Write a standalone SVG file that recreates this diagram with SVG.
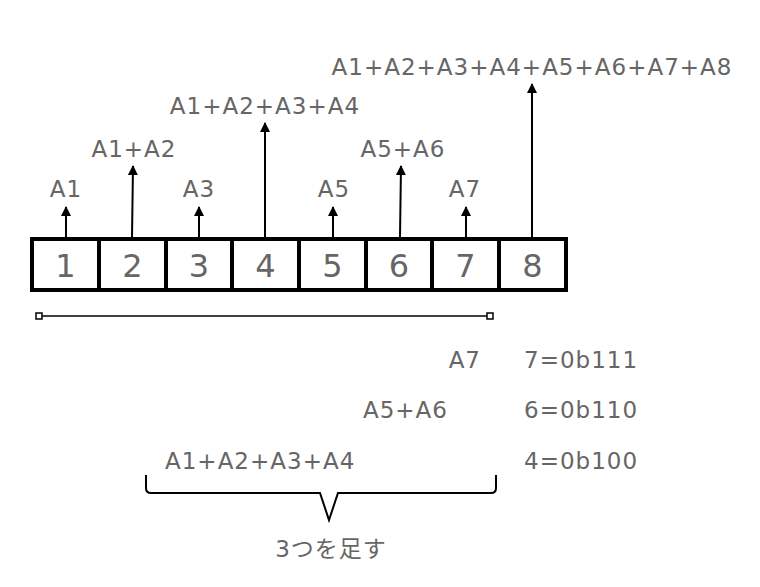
<svg xmlns="http://www.w3.org/2000/svg" width="760" height="587" viewBox="0 0 760 587">
<defs>
<marker id="ah" viewBox="0 0 10 10" refX="9" refY="5" markerWidth="10" markerHeight="10" markerUnits="userSpaceOnUse" orient="auto"><path d="M0,0 L10,5 L0,10 Z" fill="#000"/></marker>
</defs>
<style>
text{font-family:"DejaVu Sans","Noto Sans CJK JP",sans-serif;font-size:23px;letter-spacing:1px;fill:#666}
.m{text-anchor:middle}
.cell{fill:#fff;stroke:#000;stroke-width:4}
.num{font-size:32px;text-anchor:middle;letter-spacing:0}
.c{stroke:#000;stroke-width:2;fill:none}
</style>
<rect width="760" height="587" fill="#fff"/>
<g id="cells">
<g id="c1"><rect class="cell" x="32" y="239" width="67" height="51"/><text class="num" x="65.5" y="277">1</text></g>
<g id="c2"><rect class="cell" x="99" y="239" width="67" height="51"/><text class="num" x="132.5" y="277">2</text></g>
<g id="c3"><rect class="cell" x="166" y="239" width="66" height="51"/><text class="num" x="199" y="277">3</text></g>
<g id="c4"><rect class="cell" x="232" y="239" width="67" height="51"/><text class="num" x="265.5" y="277">4</text></g>
<g id="c5"><rect class="cell" x="299" y="239" width="67" height="51"/><text class="num" x="332.5" y="277">5</text></g>
<g id="c6"><rect class="cell" x="366" y="239" width="66" height="51"/><text class="num" x="399" y="277">6</text></g>
<g id="c7"><rect class="cell" x="432" y="239" width="67" height="51"/><text class="num" x="465.5" y="277">7</text></g>
<g id="c8"><rect class="cell" x="499" y="239" width="67" height="51"/><text class="num" x="532.5" y="277">8</text></g>
</g>
<g id="connectors">
<line class="c" x1="66" y1="237" x2="66" y2="207" marker-end="url(#ah)"/>
<line class="c" x1="132" y1="237" x2="133" y2="166" marker-end="url(#ah)"/>
<line class="c" x1="199" y1="237" x2="199" y2="207" marker-end="url(#ah)"/>
<line class="c" x1="265" y1="237" x2="265" y2="123" marker-end="url(#ah)"/>
<line class="c" x1="333" y1="237" x2="333" y2="207" marker-end="url(#ah)"/>
<line class="c" x1="400" y1="237" x2="401" y2="166" marker-end="url(#ah)"/>
<line class="c" x1="466" y1="237" x2="466" y2="207" marker-end="url(#ah)"/>
<line class="c" x1="532" y1="237" x2="532" y2="84" marker-end="url(#ah)"/>
</g>
<g id="labels">
<text class="m" x="66" y="197">A1</text>
<text class="m" x="134" y="157">A1+A2</text>
<text class="m" x="199" y="197">A3</text>
<text class="m" x="265" y="114">A1+A2+A3+A4</text>
<text class="m" x="334" y="197">A5</text>
<text class="m" x="403" y="157">A5+A6</text>
<text class="m" x="465" y="197">A7</text>
<text class="m" x="532" y="75">A1+A2+A3+A4+A5+A6+A7+A8</text>
</g>
<g id="range">
<line x1="39" y1="316" x2="490" y2="316" stroke="#000" stroke-width="1.5"/>
<rect x="36" y="313" width="6" height="6" fill="#fff" stroke="#000" stroke-width="1.5"/>
<rect x="487" y="313" width="6" height="6" fill="#fff" stroke="#000" stroke-width="1.5"/>
</g>
<g id="sums">
<text x="481" y="368" text-anchor="end">A7</text>
<text x="524" y="368">7=0b111</text>
<text x="448" y="418" text-anchor="end">A5+A6</text>
<text x="524" y="418">6=0b110</text>
<text x="165" y="469">A1+A2+A3+A4</text>
<text x="524" y="469">4=0b100</text>
</g>
<g id="brace">
<path d="M146,475 V488 Q146,493 151,493 H320 L329,520 L338,493 H491 Q496,493 496,488 V475" fill="none" stroke="#000" stroke-width="2"/>
<text class="m" x="331" y="557">3つを足す</text>
</g>
</svg>
